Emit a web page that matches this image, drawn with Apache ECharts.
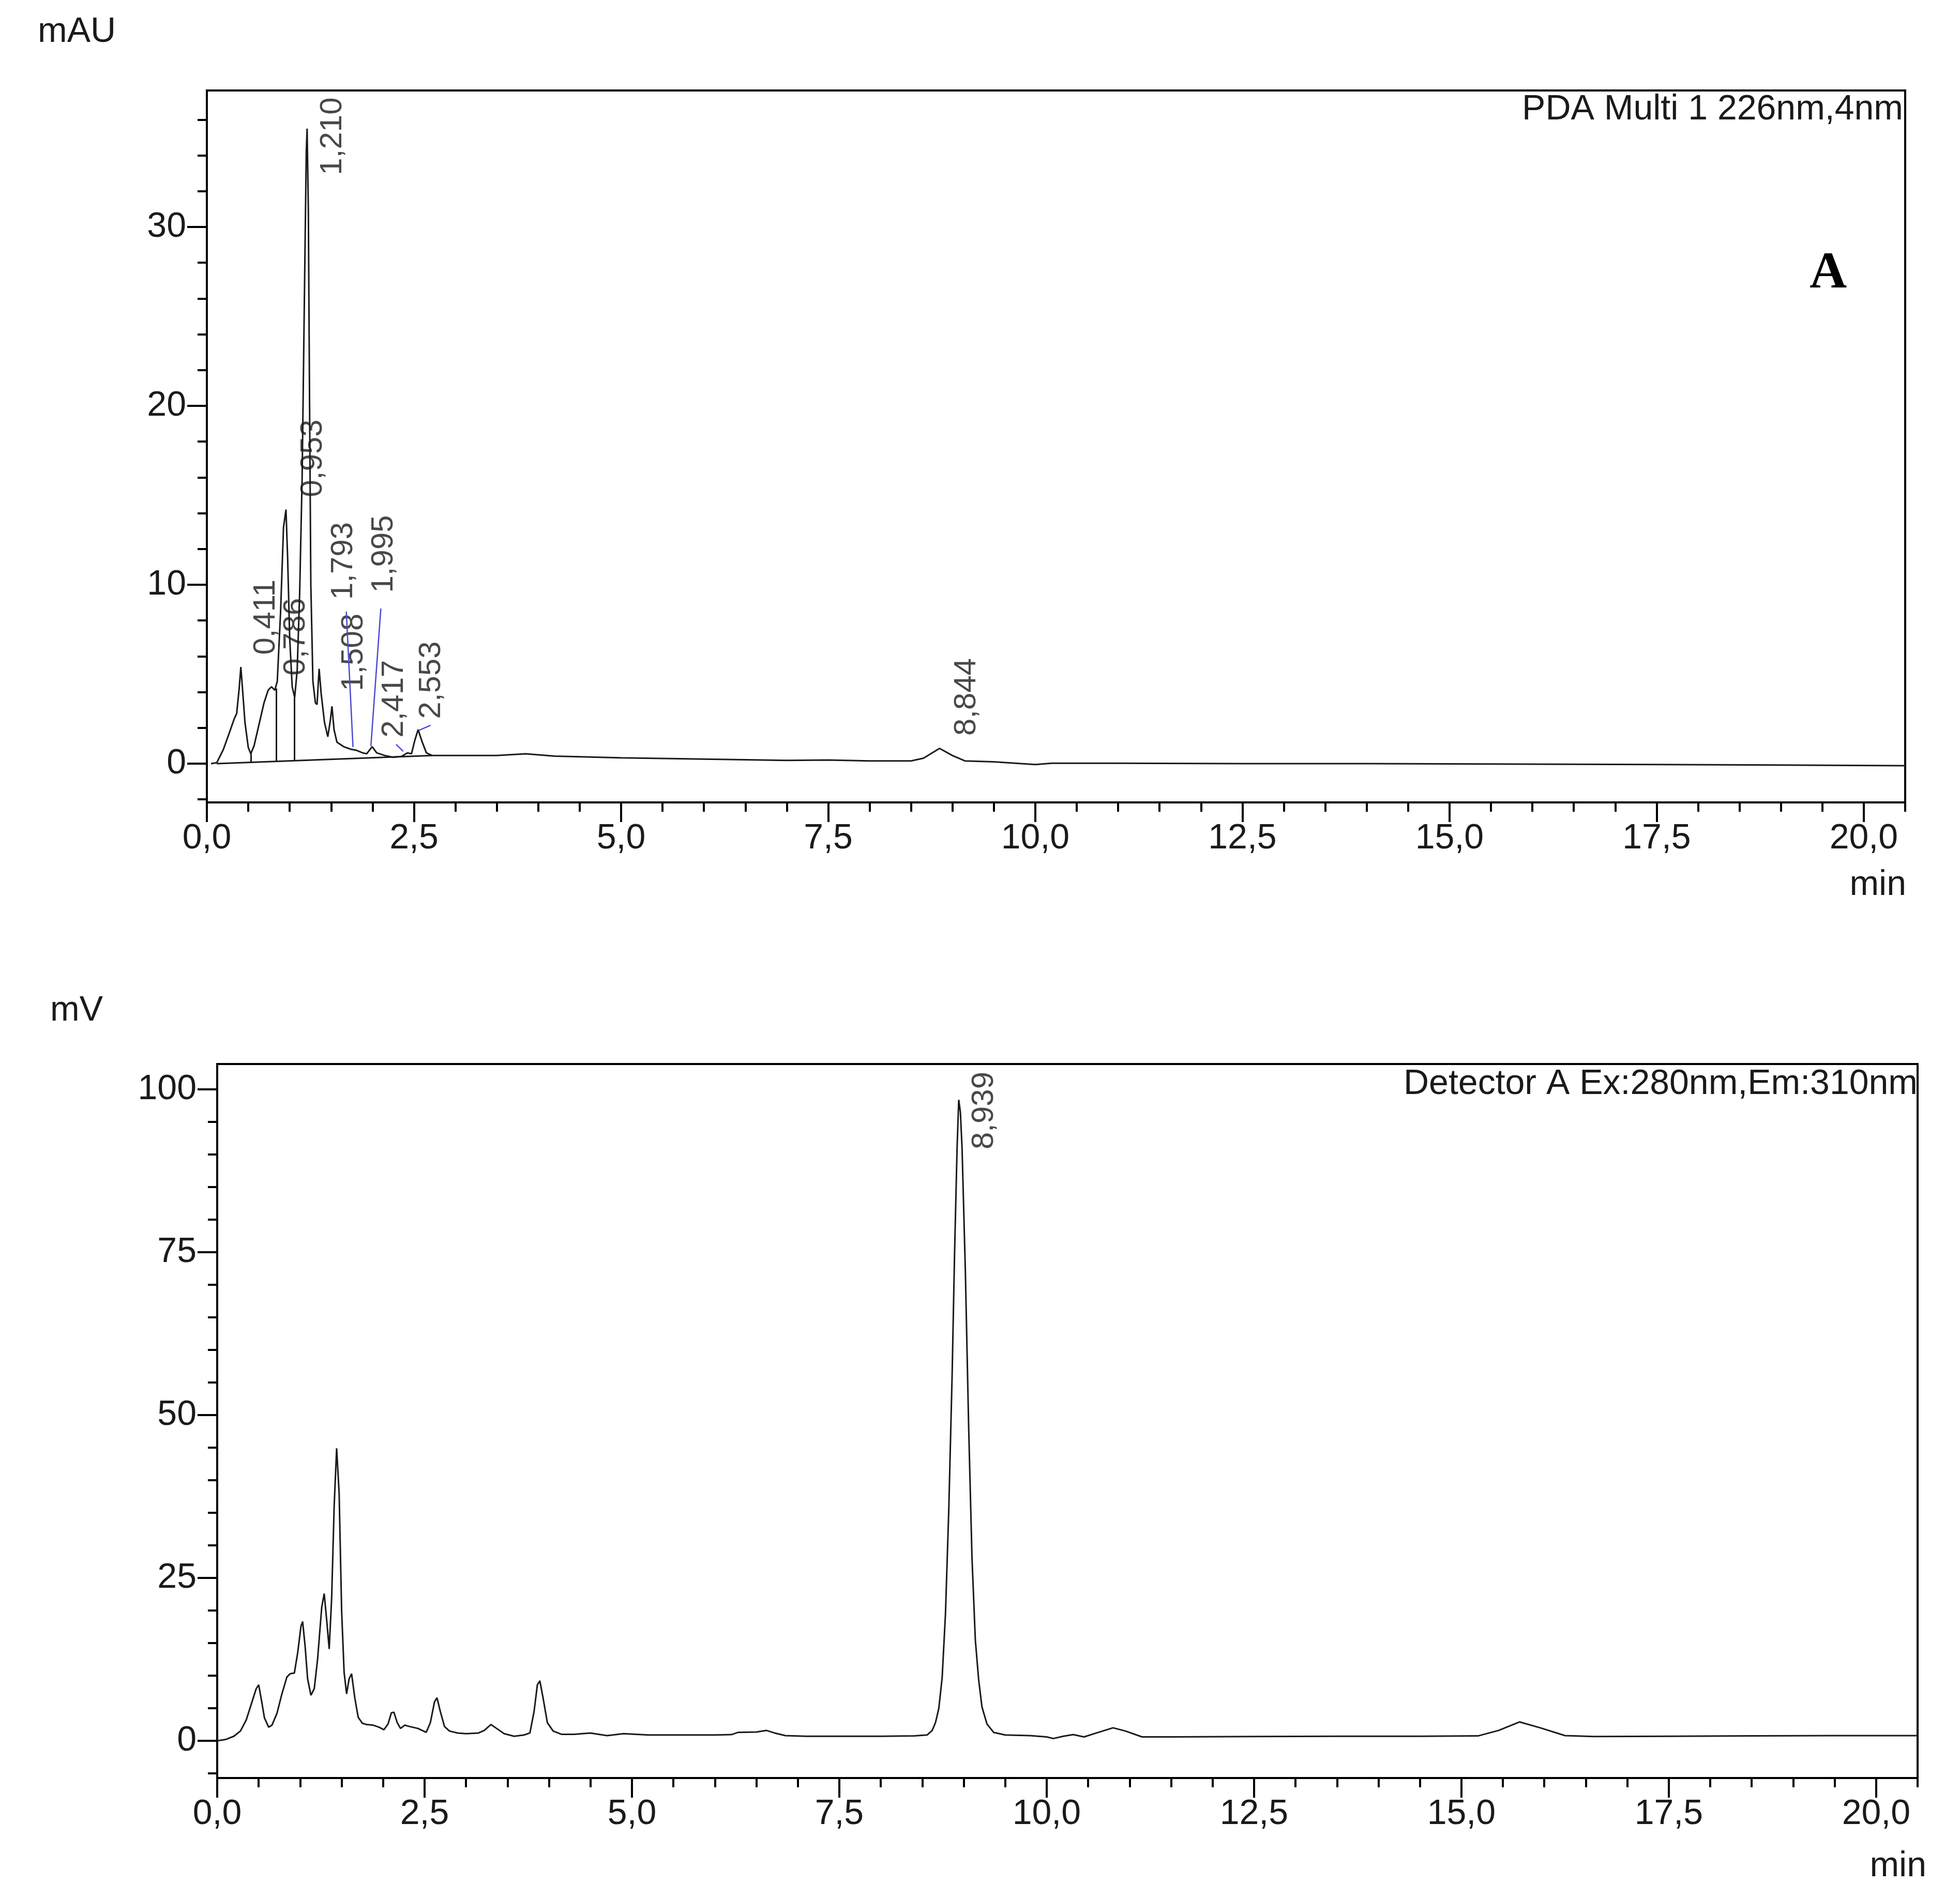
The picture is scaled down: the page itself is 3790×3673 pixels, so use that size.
<!DOCTYPE html>
<html><head><meta charset="utf-8">
<script src="https://cdn.jsdelivr.net/npm/echarts@6/dist/echarts.min.js"></script>
<style>html,body{margin:0;padding:0;background:#fff}#c{width:3790px;height:3673px}</style>
</head><body><div id="c"></div>
<script>
// ---------- DATA ----------
// Chromatogram A: PDA Multi 1 226nm,4nm  [time (min), signal (mAU)]
const pdaTrace = [
  [0.05,0.0],[0.12,0.05],[0.20,0.8],[0.27,1.7],[0.33,2.5],[0.36,2.8],[0.39,4.2],[0.41,5.4],[0.43,4.2],
  [0.46,2.3],[0.50,0.9],[0.53,0.55],[0.57,1.0],[0.63,2.2],[0.69,3.4],[0.74,4.1],[0.78,4.3],[0.82,4.1],
  [0.85,4.6],[0.89,8.5],[0.925,13.2],[0.955,14.2],[0.975,11.5],[1.00,7.0],[1.03,4.3],[1.06,3.7],
  [1.09,5.2],[1.12,9.5],[1.15,16],[1.18,27],[1.20,34.2],[1.21,35.5],[1.225,31],[1.24,20],[1.255,10],
  [1.28,4.6],[1.31,3.4],[1.33,3.3],[1.355,5.3],[1.38,3.9],[1.42,2.3],[1.46,1.5],[1.49,2.4],[1.51,3.2],
  [1.535,1.9],[1.57,1.2],[1.65,0.95],[1.74,0.8],[1.80,0.75],[1.88,0.6],[1.93,0.55],[1.995,0.95],
  [2.05,0.6],[2.15,0.45],[2.25,0.35],[2.35,0.4],[2.42,0.6],[2.47,0.55],[2.51,1.3],[2.55,1.9],
  [2.60,1.2],[2.65,0.6],[2.72,0.45],[3.0,0.45],[3.5,0.45],[3.85,0.55],[4.2,0.42],[5.0,0.32],
  [6.0,0.25],[7.0,0.18],[7.5,0.2],[8.0,0.15],[8.5,0.15],[8.65,0.3],[8.844,0.85],[9.0,0.45],
  [9.15,0.15],[9.5,0.1],[10.0,-0.05],[10.2,0.02],[11.0,0.02],[12.5,0.0],[14.0,0.0],[15.0,-0.02],
  [16.0,-0.03],[17.5,-0.05],[19.0,-0.08],[20.5,-0.12]
];
const pdaPeakTimes = [0.411, 0.786, 0.953, 1.210, 1.508, 1.793, 1.995, 2.417, 2.553, 8.844];
// integration baseline and peak drop lines [time, low, high] (mAU)
const pdaBaseline = [[0.12,0.0],[2.72,0.45]];
const pdaDropLines = [[0.53,0.03,0.55],[0.835,0.1,4.2],[1.055,0.15,3.7]];

// Chromatogram B: Detector A Ex:280nm,Em:310nm  [time (min), signal (mV)]
const flTrace = [
  [0.00,0.0],[0.10,0.2],[0.20,0.7],[0.28,1.5],[0.35,3.2],[0.42,6.0],[0.47,8.0],[0.50,8.6],[0.53,6.5],
  [0.57,3.5],[0.62,2.1],[0.66,2.4],[0.72,4.2],[0.78,7.2],[0.84,9.8],[0.88,10.3],[0.93,10.4],[0.97,13.5],
  [1.01,17.6],[1.03,18.3],[1.06,14.5],[1.09,9.5],[1.13,7.0],[1.17,8.0],[1.21,12.5],[1.26,20.5],
  [1.29,22.6],[1.32,18.5],[1.35,14.1],[1.38,22.0],[1.41,36.0],[1.44,44.9],[1.47,38.0],[1.50,20.0],
  [1.53,10.5],[1.56,7.2],[1.59,9.5],[1.62,10.3],[1.66,6.5],[1.70,3.6],[1.75,2.7],[1.80,2.5],[1.88,2.4],
  [1.95,2.1],[2.01,1.7],[2.06,2.6],[2.10,4.3],[2.13,4.4],[2.17,2.8],[2.21,1.9],[2.26,2.4],[2.32,2.2],
  [2.42,1.9],[2.52,1.3],[2.57,2.8],[2.62,6.0],[2.65,6.6],[2.69,4.5],[2.74,2.2],[2.80,1.5],[2.90,1.2],
  [3.00,1.1],[3.15,1.2],[3.22,1.6],[3.30,2.5],[3.38,1.8],[3.46,1.1],[3.58,0.7],[3.70,0.9],[3.77,1.2],
  [3.82,4.5],[3.86,8.6],[3.89,9.2],[3.93,6.5],[3.98,2.8],[4.05,1.5],[4.15,1.0],[4.30,1.0],[4.50,1.2],
  [4.70,0.8],[4.90,1.1],[5.20,0.9],[5.60,0.9],[6.00,0.9],[6.20,0.95],[6.28,1.3],[6.50,1.35],[6.62,1.6],
  [6.72,1.2],[6.85,0.8],[7.10,0.7],[7.50,0.7],[8.00,0.7],[8.40,0.75],[8.56,0.9],[8.62,1.6],[8.66,2.8],
  [8.70,5.0],[8.74,9.7],[8.78,19.5],[8.82,35.5],[8.86,56],[8.89,75],[8.92,91],[8.94,98.4],[8.96,96.5],
  [8.98,91],[9.02,72],[9.06,48],[9.10,28],[9.14,15.5],[9.18,9.4],[9.22,5.2],[9.28,2.6],[9.36,1.3],
  [9.50,0.9],[9.80,0.8],[10.00,0.6],[10.08,0.35],[10.20,0.7],[10.32,0.95],[10.45,0.6],[10.60,1.2],
  [10.80,2.0],[10.95,1.5],[11.15,0.6],[11.5,0.6],[12.5,0.65],[13.5,0.7],[14.5,0.7],[15.2,0.75],
  [15.45,1.6],[15.70,2.9],[15.95,2.0],[16.25,0.8],[16.6,0.65],[17.5,0.7],[18.5,0.75],[19.5,0.8],[20.5,0.8]
];
const flPeakTimes = [8.939];

// tick labels
const timeTickLabels = [0, 2.5, 5, 7.5, 10, 12.5, 15, 17.5, 20];
const pdaTickLabels = [0, 10, 20, 30];
const flTickLabels = [0, 25, 50, 75, 100];

// ---------- LAYOUT ----------
const FONT = '"Liberation Sans", Arial, sans-serif';
const INK = '#1a1a1a';
const BLUE = '#4a4ad0';
function range(a, b, s) { const r = []; for (let v = a; v <= b + 1e-9; v += s) r.push(+v.toFixed(3)); return r; }
const timeMinor = range(0, 20.5, 0.5);
const pdaMinor = range(-2, 36, 2);
const flMinor = range(-5, 100, 5);
const comma = (v, d) => v.toFixed(d).replace('.', ',');

// label anchors (time, signal) where each rotated retention-time label starts
const pdaLabelAt = [[0.717,6.08],[1.075,4.92],[1.28,14.9],[1.52,32.9],[1.777,4.05],[1.652,9.16],[2.14,9.55],[2.26,1.45],[2.71,2.5],[9.17,1.56]];
const flLabelAt = [[9.25,90.8]];
const pdaLeaders = [[[1.683,8.5],[1.764,0.92]],[[2.10,8.67],[1.98,0.98]],[[2.285,1.07],[2.37,0.69]],[[2.70,2.14],[2.556,1.85]]];

function xAxes(grid, max) {
  return [
    { gridIndex: grid, type: 'value', position: 'bottom', min: 0, max: max,
      axisLine: { show: true, onZero: false, lineStyle: { color: '#000', width: 4 } },
      axisTick: { show: true, customValues: timeTickLabels, length: 38, lineStyle: { color: '#000', width: 4 } },
      axisLabel: { show: true, customValues: timeTickLabels, formatter: v => comma(v, 1), margin: 36,
                   fontSize: 68, fontFamily: FONT, color: INK },
      splitLine: { show: false } },
    { gridIndex: grid, type: 'value', position: 'bottom', offset: 0, min: 0, max: max,
      axisLine: { show: false, onZero: false },
      axisTick: { show: true, customValues: timeMinor, length: 18, lineStyle: { color: '#000', width: 4 } },
      axisLabel: { show: false }, splitLine: { show: false } }
  ];
}
function yAxes(grid, min, max, majors, minors) {
  return [
    { gridIndex: grid, type: 'value', position: 'left', min: min, max: max,
      axisLine: { show: true, onZero: false, lineStyle: { color: '#000', width: 4 } },
      axisTick: { show: true, customValues: majors, length: 38, lineStyle: { color: '#000', width: 4 } },
      axisLabel: { show: true, customValues: majors, formatter: v => String(v), margin: 40,
                   fontSize: 68, fontFamily: FONT, color: INK },
      splitLine: { show: false } },
    { gridIndex: grid, type: 'value', position: 'left', offset: 0, min: min, max: max,
      axisLine: { show: false, onZero: false },
      axisTick: { show: true, customValues: minors, length: 18, lineStyle: { color: '#000', width: 4 } },
      axisLabel: { show: false }, splitLine: { show: false } }
  ];
}
const peakLabel = {
  show: true, rotate: 90, position: 'inside', align: 'left', verticalAlign: 'middle',
  fontSize: 60, fontFamily: FONT, color: INK, formatter: p => p.data[2]
};
const segs = arr => arr.map(s => [{ coord: s[0] }, { coord: s[1] }]);

const option = {
  animation: false,
  backgroundColor: '#fff',
  grid: [
    { left: 400, top: 175, width: 3284, height: 1377, show: true, borderColor: '#000', borderWidth: 4,
      backgroundColor: 'transparent', containLabel: false, outerBoundsMode: 'none' },
    { left: 420, top: 2058, width: 3288, height: 1381, show: true, borderColor: '#000', borderWidth: 4,
      backgroundColor: 'transparent', containLabel: false, outerBoundsMode: 'none' }
  ],
  xAxis: [...xAxes(0, 20.5), ...xAxes(1, 20.5)],
  yAxis: [...yAxes(0, -2.17, 37.63, pdaTickLabels, pdaMinor), ...yAxes(1, -5.71, 103.9, flTickLabels, flMinor)],
  series: [
    { type: 'line', xAxisIndex: 0, yAxisIndex: 0, data: pdaTrace, showSymbol: false, symbol: 'none',
      lineStyle: { color: INK, width: 3 }, silent: true },
    { type: 'line', xAxisIndex: 0, yAxisIndex: 0, data: pdaBaseline, showSymbol: false, symbol: 'none',
      lineStyle: { color: INK, width: 3 }, silent: true,
      markLine: { silent: true, symbol: ['none', 'none'], label: { show: false },
        lineStyle: { color: INK, width: 3, type: 'solid' },
        data: pdaDropLines.map(d => [{ coord: [d[0], d[1]] }, { coord: [d[0], d[2]] }]) } },
    { type: 'scatter', xAxisIndex: 0, yAxisIndex: 0, symbolSize: 1, itemStyle: { color: 'rgba(0,0,0,0)' },
      data: pdaPeakTimes.map((t, i) => [pdaLabelAt[i][0], pdaLabelAt[i][1], comma(t, 3)]),
      label: peakLabel, silent: true,
      markLine: { silent: true, symbol: ['none', 'none'], label: { show: false },
        lineStyle: { color: BLUE, width: 2.5, type: 'solid' }, data: segs(pdaLeaders) } },
    { type: 'line', xAxisIndex: 2, yAxisIndex: 2, data: flTrace, showSymbol: false, symbol: 'none',
      lineStyle: { color: INK, width: 3 }, silent: true },
    { type: 'scatter', xAxisIndex: 2, yAxisIndex: 2, symbolSize: 1, itemStyle: { color: 'rgba(0,0,0,0)' },
      data: flPeakTimes.map((t, i) => [flLabelAt[i][0], flLabelAt[i][1], comma(t, 3)]),
      label: peakLabel, silent: true }
  ],
  graphic: [
    { type: 'text', x: 73, y: 62, style: { text: 'mAU', font: '68px ' + FONT, fill: INK, align: 'left', verticalAlign: 'middle' } },
    { type: 'text', x: 3686, y: 1712, style: { text: 'min', font: '68px ' + FONT, fill: INK, align: 'right', verticalAlign: 'middle' } },
    { type: 'text', x: 3680, y: 212, style: { text: 'PDA Multi 1 226nm,4nm', font: '68px ' + FONT, fill: INK, align: 'right', verticalAlign: 'middle' } },
    { type: 'text', x: 3535, y: 530, style: { text: 'A', font: 'bold 100px "Liberation Serif", "Times New Roman", serif', fill: '#000', align: 'center', verticalAlign: 'middle' } },
    { type: 'text', x: 97, y: 1955, style: { text: 'mV', font: '68px ' + FONT, fill: INK, align: 'left', verticalAlign: 'middle' } },
    { type: 'text', x: 3708, y: 2097, style: { text: 'Detector A Ex:280nm,Em:310nm', font: '68px ' + FONT, fill: INK, align: 'right', verticalAlign: 'middle' } },
    { type: 'text', x: 3725, y: 3610, style: { text: 'min', font: '68px ' + FONT, fill: INK, align: 'right', verticalAlign: 'middle' } }
  ]
};
const chart = echarts.init(document.getElementById('c'), null, { renderer: 'canvas', width: 3790, height: 3673 });
chart.setOption(option);
</script>
</body></html>
